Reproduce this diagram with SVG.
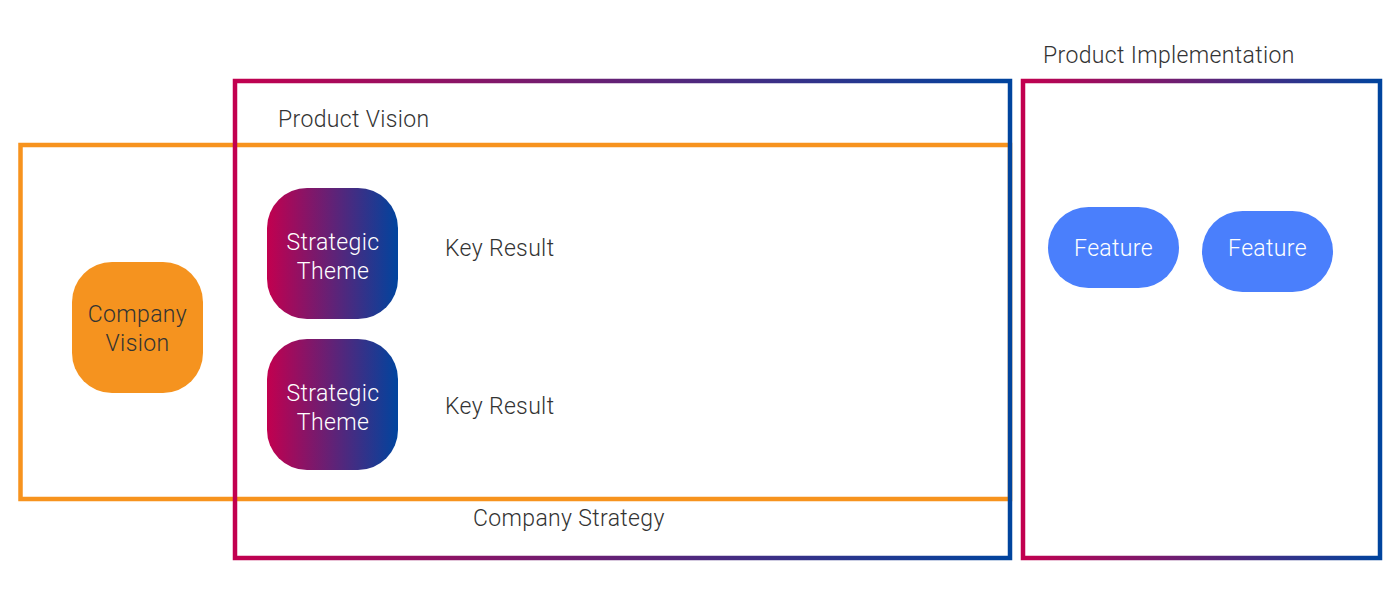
<svg xmlns="http://www.w3.org/2000/svg" width="1400" height="600" viewBox="0 0 1400 600">
<defs>
<linearGradient id="g" x1="0" y1="0" x2="1" y2="0">
<stop offset="0" stop-color="#C2004F"/>
<stop offset="1" stop-color="#00449E"/>
</linearGradient>
<style>
text{font-family:Roboto,"Liberation Sans",sans-serif;font-weight:300;font-size:23px;letter-spacing:0.35px}
.lbl{fill:#333333}
.wt{fill:#ffffff;text-anchor:middle}
.dk{fill:#333333;text-anchor:middle}
.frame{fill:none;stroke-width:4.5}
</style>
</defs>
<rect width="1400" height="600" fill="#ffffff"/>
<g id="company-strategy">
<rect class="frame" x="20.5" y="145" width="989.5" height="354" stroke="#F7931E"/>
<text class="lbl" x="473" y="526">Company Strategy</text>
</g>
<g id="product-vision">
<rect class="frame" x="235" y="81" width="775" height="477" stroke="url(#g)"/>
<text class="lbl" x="278" y="127">Product Vision</text>
</g>
<g id="product-implementation">
<rect class="frame" x="1023" y="81" width="357" height="477" stroke="url(#g)"/>
<text class="lbl" x="1043" y="63">Product Implementation</text>
</g>
<g id="company-vision">
<rect x="72" y="262" width="131" height="131" rx="40" fill="#F5931F"/>
<text class="dk" x="137.5" y="322">Company</text>
<text class="dk" x="137.5" y="351">Vision</text>
</g>
<g id="strategic-theme-1">
<rect x="267" y="188" width="131" height="131" rx="40" fill="url(#g)"/>
<text class="wt" x="333" y="250">Strategic</text>
<text class="wt" x="333" y="279">Theme</text>
</g>
<g id="strategic-theme-2">
<rect x="267" y="339" width="131" height="131" rx="40" fill="url(#g)"/>
<text class="wt" x="333" y="401">Strategic</text>
<text class="wt" x="333" y="430">Theme</text>
</g>
<g id="key-result-1"><text class="lbl" x="445" y="256">Key Result</text></g>
<g id="key-result-2"><text class="lbl" x="445" y="414">Key Result</text></g>
<g id="feature-1">
<rect x="1048" y="207" width="131" height="81" rx="40.5" fill="#4A7FFC"/>
<text class="wt" x="1113.5" y="256">Feature</text>
</g>
<g id="feature-2">
<rect x="1202" y="211" width="131" height="81" rx="40.5" fill="#4A7FFC"/>
<text class="wt" x="1267.5" y="256">Feature</text>
</g>
<g id="connectors"></g>
</svg>
